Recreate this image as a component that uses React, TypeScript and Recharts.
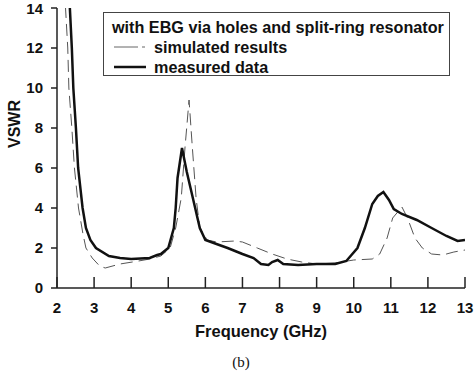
import { LineChart, Line, XAxis, YAxis } from "recharts";

const xTicks = [2, 3, 4, 5, 6, 7, 8, 9, 10, 11, 12, 13];
const yTicks = [0, 2, 4, 6, 8, 10, 12, 14];

// simulated results (dashed)
const simFreq = [2.2, 2.29, 2.32, 2.4, 2.47, 2.58, 2.7, 2.78, 2.95, 3.15, 3.3, 3.7, 4.2, 4.5, 4.8, 5.05, 5.2, 5.35, 5.45, 5.56, 5.65, 5.75, 5.85, 6.05, 6.3, 6.8, 7.0, 7.4, 7.8, 8.2, 8.6, 9.0, 9.5, 10.0, 10.5, 10.7, 10.9, 11.05, 11.3, 11.45, 11.65, 11.85, 12.1, 12.4, 12.7, 13.0];
const simVswr = [15, 12, 10, 8, 6, 4, 2.7, 2.0, 1.5, 1.1, 1.0, 1.2, 1.35, 1.45, 1.6, 2.0, 3.0, 4.5, 7.0, 9.4, 7.0, 4.5, 3.0, 2.4, 2.3, 2.35, 2.3, 2.0, 1.7, 1.45, 1.3, 1.2, 1.25, 1.4, 1.45, 1.7, 2.5, 3.5, 4.05, 3.5, 2.5, 2.0, 1.7, 1.65, 1.8, 1.9];

// measured data (solid)
const measFreq = [2.32, 2.4, 2.44, 2.51, 2.57, 2.69, 2.78, 2.9, 3.05, 3.4, 3.7, 4.0, 4.5, 4.7, 4.8, 5.0, 5.15, 5.2, 5.25, 5.37, 5.5, 5.6, 5.7, 5.85, 6.0, 6.3, 6.6, 7.0, 7.3, 7.5, 7.7, 7.8, 7.95, 8.1, 8.5, 9.0, 9.5, 9.8, 10.1, 10.3, 10.5, 10.65, 10.8, 10.95, 11.08, 11.3, 11.7, 12.1, 12.5, 12.8, 13.0];
const measVswr = [15, 12, 10, 8, 6, 4, 3.0, 2.4, 2.0, 1.6, 1.5, 1.45, 1.5, 1.65, 1.7, 2.0, 3.0, 4.0, 5.5, 7.0, 5.8, 5.0, 4.2, 3.0, 2.4, 2.2, 2.0, 1.7, 1.5, 1.2, 1.15, 1.3, 1.4, 1.2, 1.15, 1.2, 1.2, 1.35, 2.0, 3.0, 4.2, 4.6, 4.8, 4.4, 3.95, 3.7, 3.4, 3.0, 2.6, 2.35, 2.4];

const simData = simFreq.map((f, i) => ({ f, v: simVswr[i] }));
const measData = measFreq.map((f, i) => ({ f, v: measVswr[i] }));

const font = "'Liberation Sans', Arial, sans-serif";

function XTick(props: any) {
  const { x, y, payload } = props;
  return (
    <g>
      <line x1={x} y1={y} x2={x} y2={y - 11} stroke="#222" strokeWidth={1.5} />
      <text x={x} y={y + 25} textAnchor="middle" fontFamily={font} fontWeight="bold" fontSize={15} fill="#111">
        {payload.value}
      </text>
    </g>
  );
}

function LegendBox() {
  return (
    <div style={{ position: "absolute", left: 103, top: 12, border: "1px solid #444", width: 347, height: 64, boxSizing: "border-box", fontFamily: font, fontWeight: "bold", fontSize: 16.2, color: "#111", padding: "4px 0 0 8px", lineHeight: "20px", background: "#fff" }}>
      <div style={{ whiteSpace: "nowrap" }}>with EBG via holes and split-ring resonator</div>
      <div style={{ display: "flex", alignItems: "center" }}>
        <svg width={42} height={10}><line x1={2} y1={5} x2={33} y2={5} stroke="#666" strokeWidth={1} strokeDasharray="24 4 4 10" /></svg>
        <span>simulated results</span>
      </div>
      <div style={{ display: "flex", alignItems: "center" }}>
        <svg width={42} height={10}><line x1={2} y1={5} x2={34} y2={5} stroke="#111" strokeWidth={2.5} /></svg>
        <span>measured data</span>
      </div>
    </div>
  );
}

export default function App() {
  return (
    <div style={{ position: "absolute", left: 0, top: 0, width: 474, height: 391, background: "#fff" }}>
      <LineChart width={474} height={391} margin={{ top: 8, right: 9, left: 0, bottom: 73 }}>
        <XAxis
          type="number"
          dataKey="f"
          domain={[2, 13]}
          ticks={xTicks}
          allowDataOverflow
          axisLine={{ stroke: "#222", strokeWidth: 1.5 }}
          tickLine={false}
          tickSize={0}
          tickMargin={0}
          tick={<XTick />}
          height={30}
          label={{ value: "Frequency (GHz)", position: "insideBottom", offset: -19, fontFamily: font, fontWeight: "bold", fontSize: 16.5, fill: "#111" }}
        />
        <YAxis
          type="number"
          dataKey="v"
          domain={[0, 14]}
          ticks={yTicks}
          allowDataOverflow
          width={57}
          axisLine={{ stroke: "#222", strokeWidth: 1.5 }}
          tickLine={{ stroke: "#222", strokeWidth: 1.5 }}
          tickSize={6}
          tickMargin={8}
          tick={{ fontFamily: font, fontWeight: "bold", fontSize: 15, fill: "#111" }}
          label={{ value: "VSWR", angle: -90, position: "insideLeft", offset: 14, fontFamily: font, fontWeight: "bold", fontSize: 16, fill: "#111" }}
        />
        <Line data={simData} dataKey="v" type="linear" stroke="#555" strokeWidth={1} strokeDasharray="12 6" dot={false} isAnimationActive={false} />
        <Line data={measData} dataKey="v" type="linear" stroke="#111" strokeWidth={2.5} dot={false} isAnimationActive={false} />
      </LineChart>
      <LegendBox />
      <div style={{ position: "absolute", left: 0, width: 474, top: 354, textAlign: "center", fontFamily: "'Liberation Serif', 'Times New Roman', serif", fontSize: 15, color: "#111" }}>
        <span style={{ marginLeft: 8 }}>(b)</span>
      </div>
    </div>
  );
}
